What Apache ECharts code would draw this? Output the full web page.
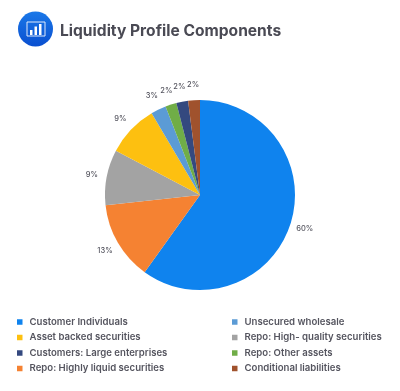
<!DOCTYPE html>
<html>
<head>
<meta charset="utf-8">
<style>
html,body{margin:0;padding:0;background:#fff}
#main{width:400px;height:391px}
</style>
<script src="https://cdn.jsdelivr.net/npm/echarts@6/dist/echarts.min.js"></script>
</head>
<body>
<div id="main"></div>
<script>
var names = ['Customer Individuals', 'Repo: Highly liquid securities', 'Repo: High- quality securities', 'Asset backed securities', 'Unsecured wholesale', 'Repo: Other assets', 'Customers: Large enterprises', 'Conditional liabilities'];
// slice sizes, the labels show them rounded
var values = [59.9, 13.4, 9.4, 8.8, 2.6, 1.9, 2.0, 2.0];
var colors = ['#0f83ee', '#f58232', '#a3a3a3', '#fdc010', '#5b9bd5', '#70ad47', '#34497f', '#a0522d'];
var legendLeft = ['Customer Individuals', 'Asset backed securities', 'Customers: Large enterprises', 'Repo: Highly liquid securities'];
var legendRight = ['Unsecured wholesale', 'Repo: High- quality securities', 'Repo: Other assets', 'Conditional liabilities'];

var fontName = 'Inter';
var legendBase = {
    orient: 'vertical',
    top: 312,
    itemWidth: 5.5,
    itemHeight: 5.5,
    itemGap: 5.5,
    icon: 'rect',
    selectedMode: false,
    textStyle: {color: '#55555f', fontFamily: fontName, fontSize: 9.6, fontWeight: 600, padding: [0, 0, 0, 2]}
};

var myChart = echarts.init(document.getElementById('main'));
var option = {
    animation: false,
    backgroundColor: '#fff',
    color: colors,
    title: {
        text: 'Liquidity Profile Components',
        left: 55,
        top: 18,
        textStyle: {color: '#4a4a54', fontFamily: fontName, fontSize: 15.6, fontWeight: 700}
    },
    legend: [
        Object.assign({}, legendBase, {left: 12, data: legendLeft}),
        Object.assign({}, legendBase, {left: 227, data: legendRight})
    ],
    // round logo next to the title
    graphic: [
        {
            type: 'circle',
            shape: {cx: 35.5, cy: 29, r: 17.5},
            style: {
                fill: new echarts.graphic.LinearGradient(0, 0, 0, 1, [
                    {offset: 0, color: '#1a78e8'},
                    {offset: 1, color: '#0a4fd0'}
                ])
            }
        },
        {type: 'rect', shape: {x: 27, y: 22, width: 18, height: 14}, style: {fill: 'none', stroke: '#dfe9fb', lineWidth: 1}},
        {type: 'rect', shape: {x: 30, y: 30, width: 2.5, height: 5}, style: {fill: '#fff'}},
        {type: 'rect', shape: {x: 34.5, y: 26.5, width: 2.5, height: 8.5}, style: {fill: '#fff'}},
        {type: 'rect', shape: {x: 39, y: 24, width: 2.5, height: 11}, style: {fill: '#fff'}}
    ],
    series: [
        {
            type: 'pie',
            center: [200, 195],
            radius: [0, 95],
            startAngle: 90,
            clockwise: true,
            avoidLabelOverlap: false,
            label: {
                show: true,
                position: 'outside',
                formatter: function (p) {
                    return Math.round(p.value) + '%';
                },
                color: '#55555f',
                fontFamily: fontName,
                fontSize: 7.5,
                fontWeight: 500,
                distanceToLabelLine: 0
            },
            labelLine: {show: false, length: 15, length2: 0},
            labelLayout: {align: 'center', verticalAlign: 'middle'},
            data: names.map(function (n, i) {
                return {name: n, value: values[i]};
            })
        }
    ]
};
myChart.setOption(option);
</script>
</body>
</html>
